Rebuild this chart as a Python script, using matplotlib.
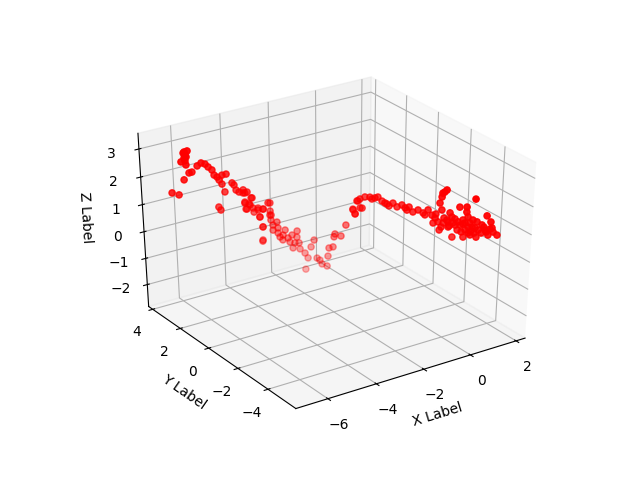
"""3D scatter of a curved path, with the stretched box of older matplotlib."""
import matplotlib
matplotlib.use("Agg")
import matplotlib.pyplot as plt

xs = [-6.13,-6.01,-6.17,-6.10,-6.06,-6.14,-6.27,-6.11,-6.08,-6.18,-5.97,-5.91,-6.63,-6.41,-5.69,-5.53,-5.43,-5.31,-5.16,-5.08,
      -4.96,-4.82,-4.65,-4.83,-4.72,-4.94,-4.42,-4.40,-4.32,-4.20,-4.04,-3.93,-3.96,-4.99,-4.91,-3.77,-3.97,-3.86,-3.99,-3.70,
      -3.49,-3.48,-3.34,-3.13,-3.36,-3.37,-3.06,-3.73,-3.97,-3.95,-3.82,-3.66,-3.49,-3.34,-3.48,-3.05,-3.05,-3.01,-3.02,-3.36,
      -3.38,-2.94,-2.83,-2.94,-2.79,-2.71,-2.49,-2.59,-2.26,-2.04,-2.05,-2.35,-2.14,-1.96,-2.22,-1.92,-1.77,-1.64,-1.57,-1.50,
      -1.74,-1.44,-1.38,-1.35,-1.26,-1.22,-1.24,-1.13,-1.15,-1.11,-0.98,-0.90,-0.79,-0.77,-0.72,-0.67,-0.80,-0.77,-0.69,-0.76,
      -0.70,-0.62,-0.54,-0.46,-0.40,-0.29,-0.30,-0.19,-0.16,-0.05,0.02,0.09,0.12,0.22,0.30,0.45,0.52,0.55,0.62,0.61,
      0.74,0.68,0.83,0.91,1.02,0.85,0.99,0.76,0.74,0.75,0.79,0.81,0.78,0.90,1.10,1.19,1.19,1.34,1.12,1.18,
      1.25,1.09,1.21,1.29,1.41,1.21,1.37,1.43,1.50,1.63,1.66,1.72,1.63,1.80,1.70,1.57,1.49,1.27,1.20,0.97,0.90,1.32,1.27,
      0.75,0.95,1.06,1.13,1.05,1.19,1.33,1.43,1.59,1.71,1.62,1.55,1.39,1.28,1.12,0.79,0.65,0.46,0.10,-0.21,-0.52,-2.79,-2.58,-2.43,-4.03]
ys = [3.2,3.2,3.2,3.2,3.2,3.2,3.2,3.2,3.2,3.2,3.2,3.1,3.3,3.2,3.1,3.1,3.0,3.0,3.0,3.0,
      3.0,2.9,2.9,2.9,2.9,2.9,2.9,2.8,2.8,2.8,2.8,2.7,2.8,2.9,2.9,2.7,2.8,2.7,2.7,2.7,
      2.7,2.6,2.6,2.6,2.6,2.6,2.6,2.7,2.8,2.7,2.7,2.7,2.7,2.6,2.6,2.6,2.6,2.6,2.6,2.6,
      2.6,2.6,2.5,2.6,2.5,2.5,2.5,2.5,2.4,2.4,2.4,2.4,2.4,2.4,2.4,2.4,2.3,2.3,2.2,2.1,
      2.3,2.0,1.9,1.8,1.6,1.6,1.5,1.4,1.3,1.3,1.1,0.9,0.6,0.5,0.4,0.2,0.6,0.5,0.3,0.4,
      0.3,0.1,-0.1,-0.3,-0.4,-0.5,-0.7,-0.8,-1.0,-1.1,-1.3,-1.4,-1.6,-1.7,-1.9,-2.0,-2.2,-2.4,-2.5,-2.4,
      -2.6,-2.6,-2.7,-2.9,-3.0,-2.9,-3.0,-2.7,-2.6,-2.7,-2.8,-2.9,-2.7,-3.0,-3.3,-3.6,-3.6,-3.9,-3.2,-3.4,
      -3.6,-3.2,-3.4,-3.7,-3.9,-3.5,-3.7,-3.9,-4.1,-4.2,-4.4,-4.4,-4.3,-4.6,-4.5,-4.2,-3.9,-3.7,-3.5,-3.1,-2.9,-3.8,-3.6,
      -2.7,-2.9,-3.1,-3.3,-3.1,-3.4,-3.7,-3.8,-4.1,-4.3,-4.2,-4.0,-3.8,-3.6,-3.4,-2.8,-2.5,-2.1,-1.5,-0.7,-0.2,2.5,2.5,2.4,2.8]
zs = [2.98,2.99,2.95,2.87,2.79,2.77,2.66,2.66,2.51,2.00,2.20,2.25,1.60,1.51,2.42,2.49,2.46,2.33,2.19,1.99,
      1.89,1.96,1.96,1.64,1.33,1.81,1.59,1.54,1.34,1.24,1.17,1.21,1.15,0.84,0.71,0.96,0.82,0.76,0.60,0.57,
      0.45,0.22,0.48,0.66,-0.18,-0.67,0.19,0.95,0.78,0.59,0.71,0.41,0.52,0.48,0.22,0.64,0.34,0.18,0.00,-0.18,
      -0.71,-0.21,-0.09,-0.40,-0.51,-0.68,-0.47,-0.82,-0.68,-0.58,-0.81,-0.92,-1.01,-1.05,-1.18,-1.29,-1.45,-1.67,-1.23,-0.95,
      -2.08,-1.62,-1.68,-1.80,-1.83,-1.46,-1.11,-1.06,-0.64,-0.54,-0.58,-0.12,0.52,0.40,0.90,0.69,0.55,0.40,0.67,0.91,
      1.00,1.12,1.16,1.18,1.23,1.09,1.09,0.99,1.15,1.02,1.14,1.05,1.14,0.97,1.09,0.98,1.14,1.01,0.92,0.71,
      0.49,0.80,0.76,0.66,0.30,0.93,1.04,1.25,1.47,1.72,1.92,2.02,1.85,1.21,1.47,1.55,1.37,1.90,0.90,1.02,
      1.18,0.61,0.39,0.55,0.51,0.68,0.82,1.06,1.00,1.33,1.17,0.94,0.67,0.73,0.83,0.83,0.75,0.99,0.94,0.86,0.85,1.12,0.81,
      0.63,0.69,0.76,0.81,0.99,0.87,0.68,0.81,0.90,0.87,0.75,0.66,0.63,0.59,0.60,0.98,1.06,0.94,1.00,1.03,1.12,-0.32,-0.64,-0.75,1.28]

fig = plt.figure()
ax = fig.add_subplot(projection="3d")
# let the axes fill the whole subplot rectangle instead of staying square
ax.apply_aspect = lambda position=None: None
ax.set_box_aspect((1, 1, 1), zoom=0.945)
ax.view_init(elev=33, azim=-124)

ax.scatter(xs, ys, zs, c="r", marker="o")

ax.set_xlim(-7.3, 2.4)
ax.set_ylim(-5.8, 4.3)
ax.set_zlim(-2.85, 3.55)
ax.set_xlabel("X Label")
ax.set_ylabel("Y Label")
ax.set_zlabel("Z Label")

fig.savefig("out.png", dpi=100)
plt.close(fig)
